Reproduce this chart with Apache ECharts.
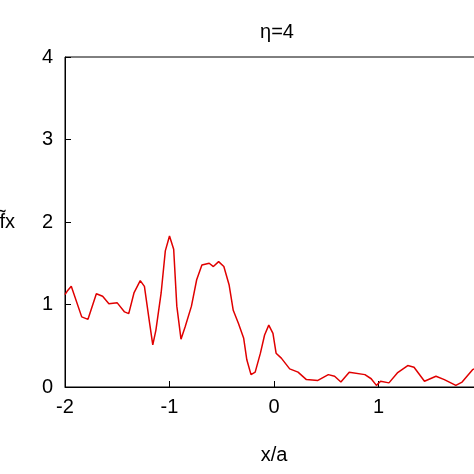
<!DOCTYPE html>
<html>
<head>
<meta charset="utf-8">
<script src="https://cdn.jsdelivr.net/npm/echarts@6/dist/echarts.min.js"></script>
<style>html,body{margin:0;padding:0;background:#fff}#chart{width:474px;height:474px}</style>
</head>
<body>
<div id="chart"></div>
<script>
// Curve samples
const xVals = [-2.0, -1.98, -1.94, -1.84, -1.78, -1.70, -1.64, -1.58, -1.50, -1.43, -1.39, -1.34, -1.28, -1.24, -1.19, -1.16, -1.13, -1.08, -1.04, -1.00, -0.96, -0.93, -0.89, -0.85, -0.79, -0.74, -0.69, -0.62, -0.58, -0.53, -0.48, -0.43, -0.39, -0.34, -0.29, -0.26, -0.22, -0.18, -0.13, -0.09, -0.05, -0.01, 0.02, 0.07, 0.15, 0.23, 0.31, 0.42, 0.52, 0.58, 0.64, 0.72, 0.87, 0.93, 0.98, 1.02, 1.10, 1.18, 1.28, 1.34, 1.44, 1.55, 1.63, 1.74, 1.80, 1.90, 1.95, 2.0];
const yVals = [1.12, 1.16, 1.22, 0.85, 0.82, 1.13, 1.10, 1.01, 1.02, 0.91, 0.89, 1.14, 1.29, 1.22, 0.77, 0.51, 0.69, 1.14, 1.65, 1.83, 1.67, 0.98, 0.58, 0.73, 0.98, 1.30, 1.48, 1.50, 1.46, 1.52, 1.46, 1.24, 0.93, 0.77, 0.59, 0.33, 0.15, 0.18, 0.41, 0.63, 0.75, 0.65, 0.41, 0.35, 0.22, 0.18, 0.09, 0.08, 0.15, 0.13, 0.06, 0.18, 0.15, 0.10, 0.02, 0.07, 0.05, 0.17, 0.26, 0.24, 0.07, 0.13, 0.09, 0.02, 0.06, 0.21, 0.24, 0.30];
const xTicks = [-2, -1, 0, 1, 2];
const yTicks = [0, 1, 2, 3, 4];

const chart = echarts.init(document.getElementById("chart"));
const font = "'Liberation Sans', Arial, sans-serif";

chart.setOption({
  animation: false,
  textStyle: { fontFamily: font },
  title: {
    text: "η=4",
    left: 272,
    top: 17,
    textAlign: "center",
    textStyle: { fontSize: 20, fontWeight: "normal", color: "#000", fontFamily: font },
  },
  grid: {
    left: 65, top: 57, right: -9, bottom: 87,
    outerBoundsMode: "none", containLabel: false,
    show: true, borderColor: "#000", borderWidth: 1,
  },
  xAxis: {
    type: "value",
    min: -2,
    max: 2,
    interval: 1,
    name: "x/a",
    nameLocation: "middle",
    nameGap: 58,
    nameTextStyle: { fontSize: 20, color: "#000" },
    axisLine: { onZero: false, lineStyle: { color: "#000" } },
    axisTick: { inside: true, length: 6, lineStyle: { color: "#000" } },
    axisLabel: { fontSize: 20, color: "#000", margin: 10 },
    splitLine: { show: false },
  },
  yAxis: {
    type: "value",
    min: 0,
    max: 4,
    interval: 1,
    name: "f̃x",
    nameLocation: "middle",
    nameRotate: 0,
    nameGap: 50,
    nameTextStyle: { fontSize: 20, color: "#000" },
    axisLine: { onZero: false, lineStyle: { color: "#000" } },
    axisTick: { inside: true, length: 6, lineStyle: { color: "#000" } },
    axisLabel: { fontSize: 20, color: "#000", margin: 12 },
    splitLine: { show: false },
  },
  series: [{
    type: "line",
    data: xVals.map((x, i) => [x, yVals[i]]),
    showSymbol: false,
    lineStyle: { color: "#e00000", width: 1.5 },
  }],
});
</script>
</body>
</html>
